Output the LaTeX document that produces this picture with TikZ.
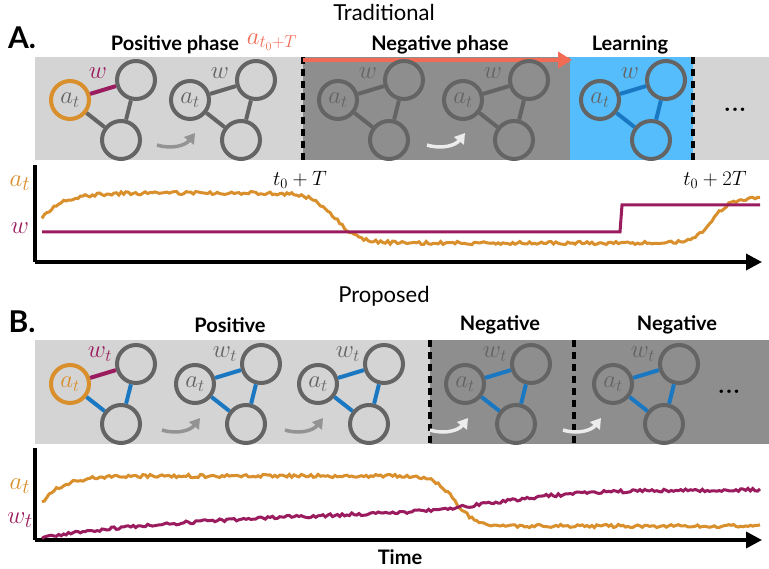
\documentclass[tikz,border=0pt]{standalone}
\usepackage{fontspec}
\setsansfont{Lato}
\usetikzlibrary{arrows.meta}
\definecolor{lg}{HTML}{D4D4D4}
\definecolor{dg}{HTML}{8E8E8E}
\definecolor{lb}{HTML}{56BDFC}
\definecolor{eb}{HTML}{1A78C2}
\definecolor{og}{HTML}{D88F2C}
\definecolor{pu}{HTML}{9A1B5E}
\definecolor{rd}{HTML}{F26B55}
\definecolor{ng}{HTML}{646464}
\newcommand\fs[1]{\fontsize{#1}{#1}\selectfont}
\tikzset{
 nd/.style={circle,draw=ng,line width=4pt,minimum size=38pt,inner sep=0pt,font=\fs{24}},
 ed/.style={line width=4pt},
 ttl/.style={font=\sffamily\bfseries\fs{20}},
 hdr/.style={font=\sffamily\fs{22}},
 wl/.style={font=\fs{24}},
 dsh/.style={line width=4pt,dash pattern=on 7pt off 5pt},
 bendarr/.style={line width=3.5pt,-{Triangle[length=10pt,width=12pt]}},
}
\newcommand\gph[8]{%
 \node[nd,draw=#6,text=#7] (#1a) at (#2,#3) {$a_t$};
 \node[nd] (#1b) at ({#2+66},{#3-20}) {};
 \node[nd] (#1c) at ({#2+51},{#3+40}) {};
 \draw[ed,#4] (#1a) -- (#1b);
 \draw[ed,#5] (#1a) -- (#1c);
 \draw[ed,#5] (#1b) -- (#1c);
}
\begin{document}
\begin{tikzpicture}[x=1pt,y=-1pt]
\useasboundingbox (0,0) rectangle (769,569);
% ---------- A
\node[hdr] (tradt) at (384,12) {Traditional};
\node[font=\sffamily\bfseries\fs{30}] (lA) at (22,38) {A.};
\fill[lg] (35,57) rectangle (769,160);
\fill[dg] (303,57) rectangle (570,160);
\fill[lb] (570,57) rectangle (693,160);
\draw[dsh] (303,57) -- (303,160);
\draw[dsh] (693,57) -- (693,160);
\node[ttl] (tp) at (175,45) {Positive phase};
\node[ttl] (tn) at (440,45) {Negative phase};
\node[ttl] (tl) at (630,45) {Learning};
\node[text=rd,font=\fs{26}] (at0) at (272,42) {$a_{t_0+T}$};
\coordinate (ra) at (303,60); \coordinate (rb) at (572,60);
\draw[rd,line width=4pt,-{Triangle[length=14pt,width=16pt]}] (ra) -- (rb);
\gph{g1}{70}{100}{pu}{ng}{og}{ng}{pu}
\node[text=pu,wl] (w1) at (98,73) {$w$};
\gph{g2}{190}{100}{ng}{ng}{ng}{ng}{ng}
\node[text=ng,wl] (w2) at (220,73) {$w$};
\gph{g3}{338}{100}{ng}{ng}{ng}{ng}{ng}
\node[text=ng,wl] (w3) at (368,73) {$w$};
\gph{g4}{463}{100}{ng}{ng}{ng}{ng}{ng}
\node[text=ng,wl] (w4) at (493,73) {$w$};
\gph{g5}{600}{100}{eb}{eb}{ng}{ng}{ng}
\node[text=ng,wl] (w5) at (630,73) {$w$};
\node[font=\fs{24}\bfseries] (dA) at (735,110) {...};
\coordinate (c1a) at (157,145); \coordinate (c1b) at (195,133);
\draw[bendarr,color=gray!85] (c1a) to[bend right=35] (c1b);
\coordinate (c2a) at (427,145); \coordinate (c2b) at (465,133);
\draw[bendarr,color=gray!15] (c2a) to[bend right=35] (c2b);
% plot A
\coordinate (oA) at (35,262);
\coordinate (yA) at (35,165); \coordinate (xA) at (762,262);
\draw[line width=3.5pt] (yA) -- (oA);
\draw[line width=3.5pt,-{Triangle[length=16pt,width=16pt]}] (oA) -- (xA);
\pgfmathsetseed{7}
\draw[og,line width=3pt] plot[domain=42:760,samples=300] (\x,{243-50/(1+exp(min(9,max(-9,(\x-335)/12))))+25*exp(-(\x-42)/20)-45/(1+exp(min(9,max(-9,-(\x-712)/9))))+1.6*rand});
\draw[pu,line width=3pt] (42,232) -- (620,232) -- (622,205) -- (760,205);
\node[text=og,font=\fs{30}] (laA) at (20,183) {$a_t$};
\node[text=pu,font=\fs{30}] (lwA) at (20,228) {$w$};
\node[font=\fs{22}] (t1) at (300,180) {$t_0+T$};
\node[font=\fs{22}] (t2) at (715,180) {$t_0+2T$};
% ---------- B
\node[hdr] (prop) at (384,296) {Proposed};
\node[font=\sffamily\bfseries\fs{30}] (lB) at (22,322) {B.};
\fill[lg] (35,340) rectangle (769,444);
\fill[dg] (430,340) rectangle (769,444);
\draw[dsh] (430,340) -- (430,444);
\draw[dsh] (574,340) -- (574,444);
\node[ttl] (bp) at (230,325) {Positive};
\node[ttl] (bn1) at (500,325) {Negative};
\node[ttl] (bn2) at (677,325) {Negative};
\gph{h1}{70}{384}{pu}{eb}{og}{og}{pu}
\node[text=pu,wl] (v1) at (100,354) {$w_t$};
\gph{h2}{195}{384}{eb}{eb}{ng}{ng}{ng}
\node[text=ng,wl] (v2) at (225,354) {$w_t$};
\gph{h3}{318}{384}{eb}{eb}{ng}{ng}{ng}
\node[text=ng,wl] (v3) at (348,354) {$w_t$};
\gph{h4}{465}{384}{eb}{eb}{ng}{ng}{ng}
\node[text=ng,wl] (v4) at (495,354) {$w_t$};
\gph{h5}{613}{384}{eb}{eb}{ng}{ng}{ng}
\node[text=ng,wl] (v5) at (643,354) {$w_t$};
\node[font=\fs{24}\bfseries] (dB) at (729,392) {...};
\foreach \xx/\cc in {162/gray!85,285/gray!85,430/gray!15,563/gray!15}{
 \coordinate (q\xx a) at (\xx,430); \coordinate (q\xx b) at ({\xx+38},418);
 \draw[bendarr,color=\cc] (q\xx a) to[bend right=35] (q\xx b);}
% plot B
\coordinate (oB) at (35,540);
\coordinate (yB) at (35,448); \coordinate (xB) at (762,540);
\draw[line width=3.5pt] (yB) -- (oB);
\draw[line width=3.5pt,-{Triangle[length=16pt,width=16pt]}] (oB) -- (xB);
\draw[og,line width=3pt] plot[domain=42:760,samples=300] (\x,{526-50/(1+exp(min(9,max(-9,(\x-455)/10))))+27*exp(-(\x-42)/20)+1.6*rand});
\draw[pu,line width=3pt] plot[domain=42:760,samples=300] (\x,{537-28*(1-exp(-(\x-42)/200))-20/(1+exp(min(9,max(-9,-(\x-500)/40))))+1.6*rand});
\node[text=og,font=\fs{30}] (laB) at (20,486) {$a_t$};
\node[text=pu,font=\fs{30}] (lwB) at (20,520) {$w_t$};
\node[font=\sffamily\bfseries\fs{20}] (time) at (400,557) {Time};
\end{tikzpicture}
\end{document}
